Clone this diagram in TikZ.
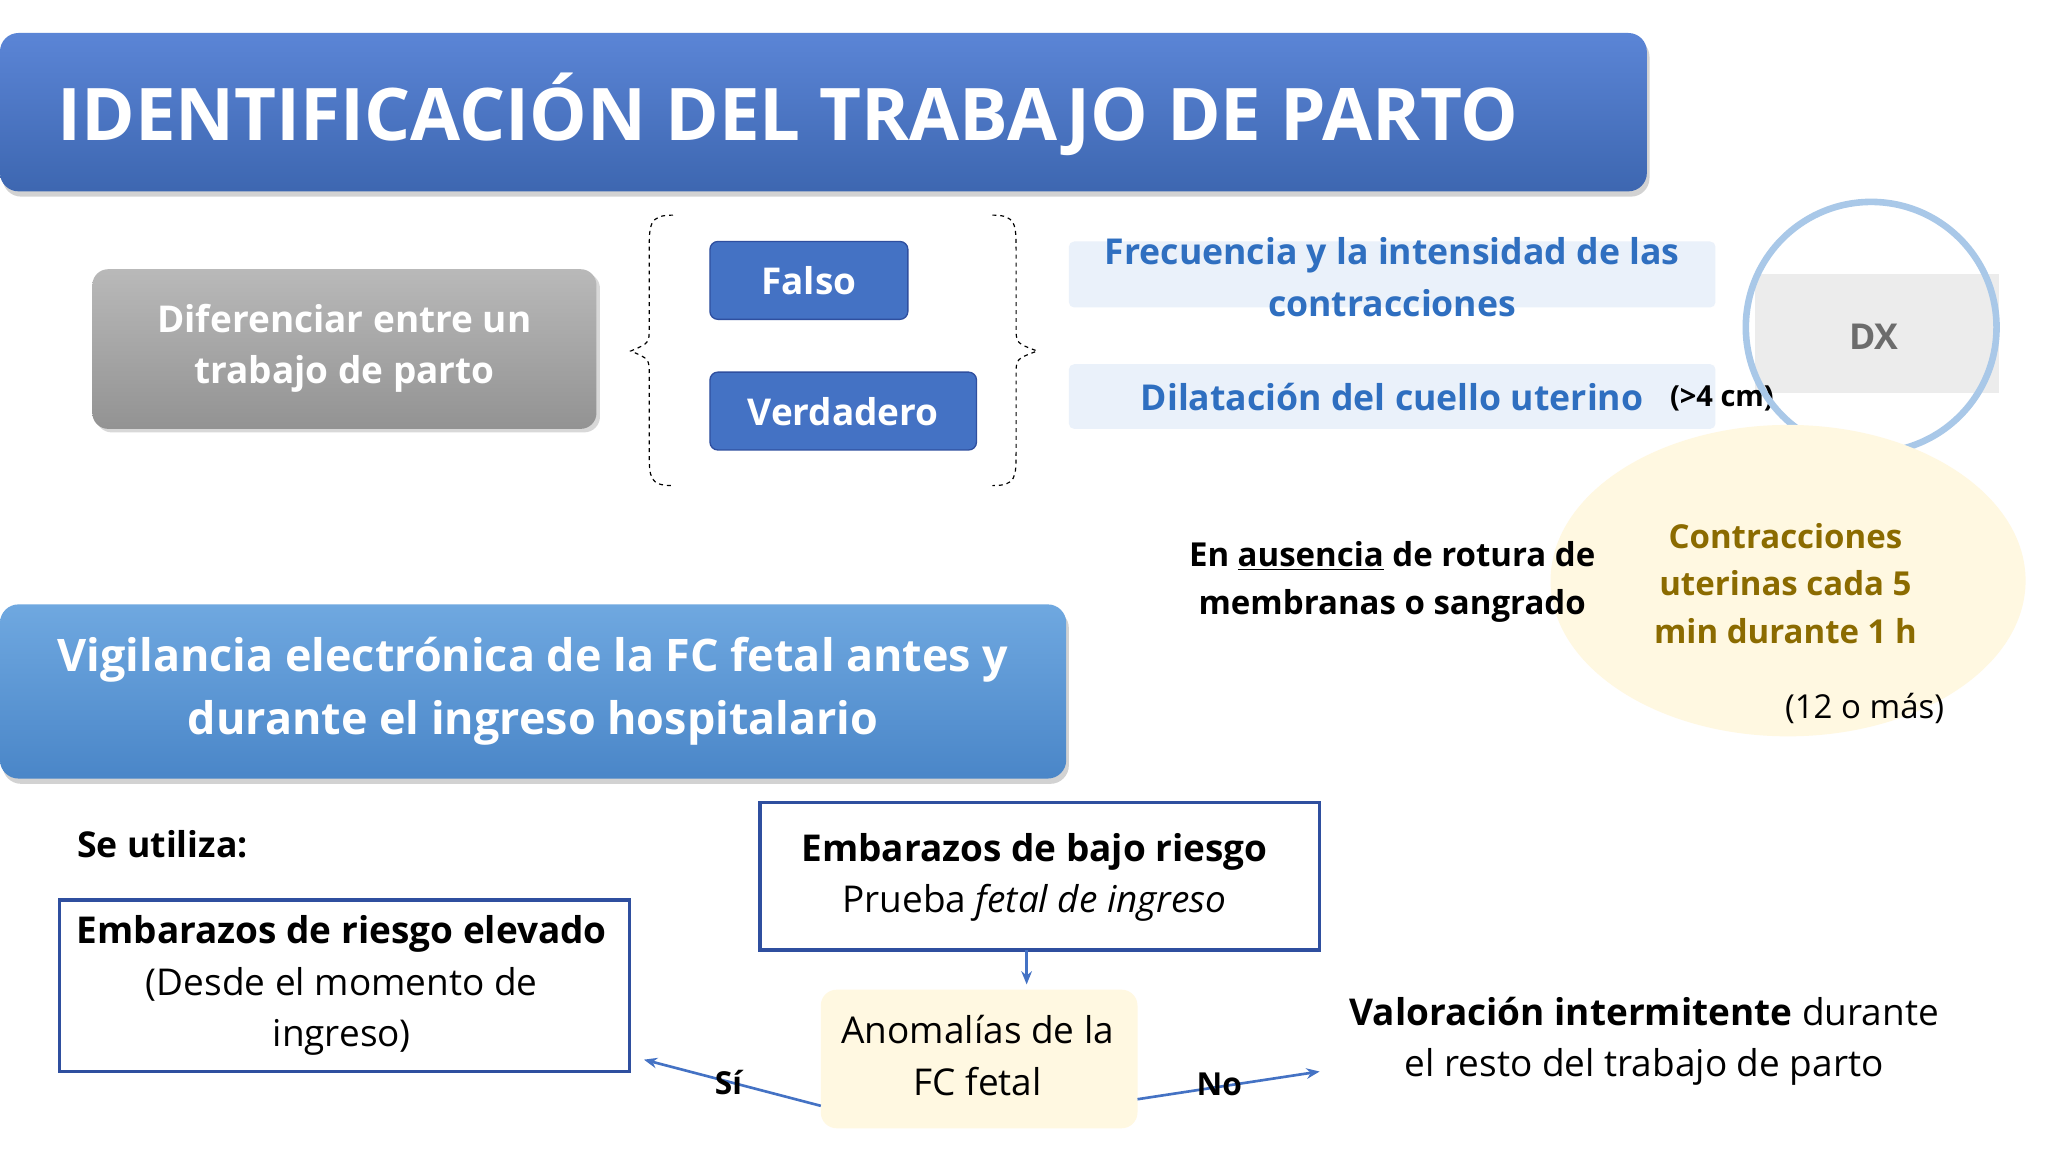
\documentclass[tikz,border=0pt]{standalone}
\usepackage{fontspec}
\setmainfont{Open Sans}
\usetikzlibrary{shadows,arrows.meta}
\definecolor{tblue}{HTML}{4472C4}
\definecolor{tblueL}{HTML}{5B85D6}
\definecolor{bblue}{HTML}{6FA8E0}
\definecolor{bblueD}{HTML}{4A86C8}
\definecolor{txtblue}{HTML}{2F6FC0}
\definecolor{lightbg}{HTML}{EAF1FA}
\definecolor{yel}{HTML}{FFF8E1}
\definecolor{gold}{HTML}{8B6B00}
\definecolor{navy}{HTML}{2F4F9F}
\definecolor{ring}{HTML}{A9C8E8}
\tikzset{
  fs/.style={font=\fontsize{#1}{39}\selectfont},
  wbold/.style={text=white,font=\bfseries\fontsize{28}{39}\selectfont,align=center},
  smallbtn/.style={draw=navy,fill=tblue,rounded corners=6pt,line width=1pt},
  outbox/.style={draw=navy,line width=2.5pt,fill=white},
  arr/.style={-{Stealth[length=10pt,width=8pt]},draw=tblue,line width=2pt},
}
\begin{document}
\begin{tikzpicture}[x=1pt,y=-1pt]
\useasboundingbox (0,0) rectangle (1552,873);
\fill[white] (0,0) rectangle (1552,873);
% title
\shade[top color=tblueL,bottom color=tblue!90!black,rounded corners=14pt,drop shadow={opacity=0.35,shadow xshift=2pt,shadow yshift=-4pt}] (0,25) rectangle (1248,145);
\node[anchor=west,text=white,font=\bfseries\fontsize{55}{60}\selectfont] (title) at (40,87) {IDENTIFICACIÓN DEL TRABAJO DE PARTO};
% grey box
\shade[top color=gray!55,bottom color=gray!85,rounded corners=12pt,drop shadow={opacity=0.3}] (70,204) rectangle (452,325);
\node[wbold] (dif) at (261,264) {Diferenciar entre un\\trabajo de parto};
% falso / verdadero
\draw[smallbtn] (538,183) rectangle (688,242);
\node[wbold] (falso) at (613,213) {Falso};
\draw[smallbtn] (538,282) rectangle (740,341);
\node[wbold] (verd) at (639,312) {Verdadero};
% braces
\draw[dashed,line width=0.9pt] (510,163) .. controls (492,163) and (492,170) .. (492,190) -- (492,248) .. controls (492,260) .. (478,266) .. controls (492,272) .. (492,284) -- (492,342) .. controls (492,362) and (492,368) .. (510,368);
\draw[dashed,line width=0.9pt] (752,163) .. controls (770,163) and (770,170) .. (770,190) -- (770,248) .. controls (770,260) .. (786,266) .. controls (770,272) .. (770,284) -- (770,342) .. controls (770,362) and (770,368) .. (752,368);
% light blue
\fill[lightbg,rounded corners=4pt] (810,183) rectangle (1300,233);
\node[text=txtblue,font=\bfseries\fontsize{27}{39}\selectfont,align=center] (frec) at (1055,210) {Frecuencia y la intensidad de las\\contracciones};
\fill[lightbg,rounded corners=4pt] (810,276) rectangle (1300,325);
\node[text=txtblue,font=\bfseries\fontsize{27}{39}\selectfont] (dil) at (1055,301) {Dilatación del cuello uterino};
% DX
\fill[gray!15] (1330,208) rectangle (1515,298);
\node[anchor=west,font=\bfseries\fontsize{22}{26}\selectfont] (cm) at (1262,302) {(>4 cm)};
\draw[ring,line width=5pt] (1418,248) circle (95);
\node[text=gray!85!black,font=\bfseries\fontsize{27}{30}\selectfont] (dx) at (1420,255) {DX};
% yellow ellipse
\fill[yel] (1355,440) ellipse (180 and 118);
\node[text=gold,font=\bfseries\fontsize{25}{36}\selectfont,align=center] (contr) at (1353,442) {Contracciones\\uterinas cada 5\\min durante 1 h};
\node[fs=25] (doce) at (1413,537) {(12 o más)};
\node[font=\bfseries\fontsize{25}{36}\selectfont,align=center] (aus) at (1055,441) {En \underline{ausencia} de rotura de\\membranas o sangrado};
% second banner
\shade[top color=bblue,bottom color=bblueD,rounded corners=14pt,drop shadow={opacity=0.35,shadow xshift=2pt,shadow yshift=-4pt}] (0,458) rectangle (808,590);
\node[text=white,font=\bfseries\fontsize{34}{48}\selectfont,align=center] (vig) at (404,524) {Vigilancia electrónica de la FC fetal antes y\\durante el ingreso hospitalario};
\node[anchor=west,font=\bfseries\fontsize{27}{30}\selectfont] (se) at (55,640) {Se utiliza:};
% boxes
\draw[outbox] (45,682) rectangle (477,812);
\node[fs=28,align=center] (elev) at (259,747) {\textbf{Embarazos de riesgo elevado}\\(Desde el momento de\\ingreso)};
\draw[outbox] (576,608) rectangle (1000,720);
\node[fs=28,align=center] (bajo) at (784,665) {\textbf{Embarazos de bajo riesgo}\\Prueba \textit{fetal de ingreso}};
\fill[yel,rounded corners=12pt] (622,750) rectangle (862,855);
\node[fs=28,align=center] (anom) at (741,800) {Anomalías de la\\FC fetal};
\coordinate (b1) at (778,720);
\coordinate (b2) at (778,746);
\draw[arr] (b1) -- (b2);
\coordinate (s1) at (622,838);
\coordinate (s2) at (488,803);
\draw[arr] (s1) -- (s2);
\coordinate (n1) at (862,833);
\coordinate (n2) at (1000,812);
\draw[arr] (n1) -- (n2);
\node[font=\bfseries\fontsize{24}{28}\selectfont] (si) at (552,820) {Sí};
\node[font=\bfseries\fontsize{24}{28}\selectfont] (no) at (924,822) {No};
\node[fs=28,align=center] (val) at (1246,789) {\textbf{Valoración intermitente} durante\\el resto del trabajo de parto};
\end{tikzpicture}
\end{document}
